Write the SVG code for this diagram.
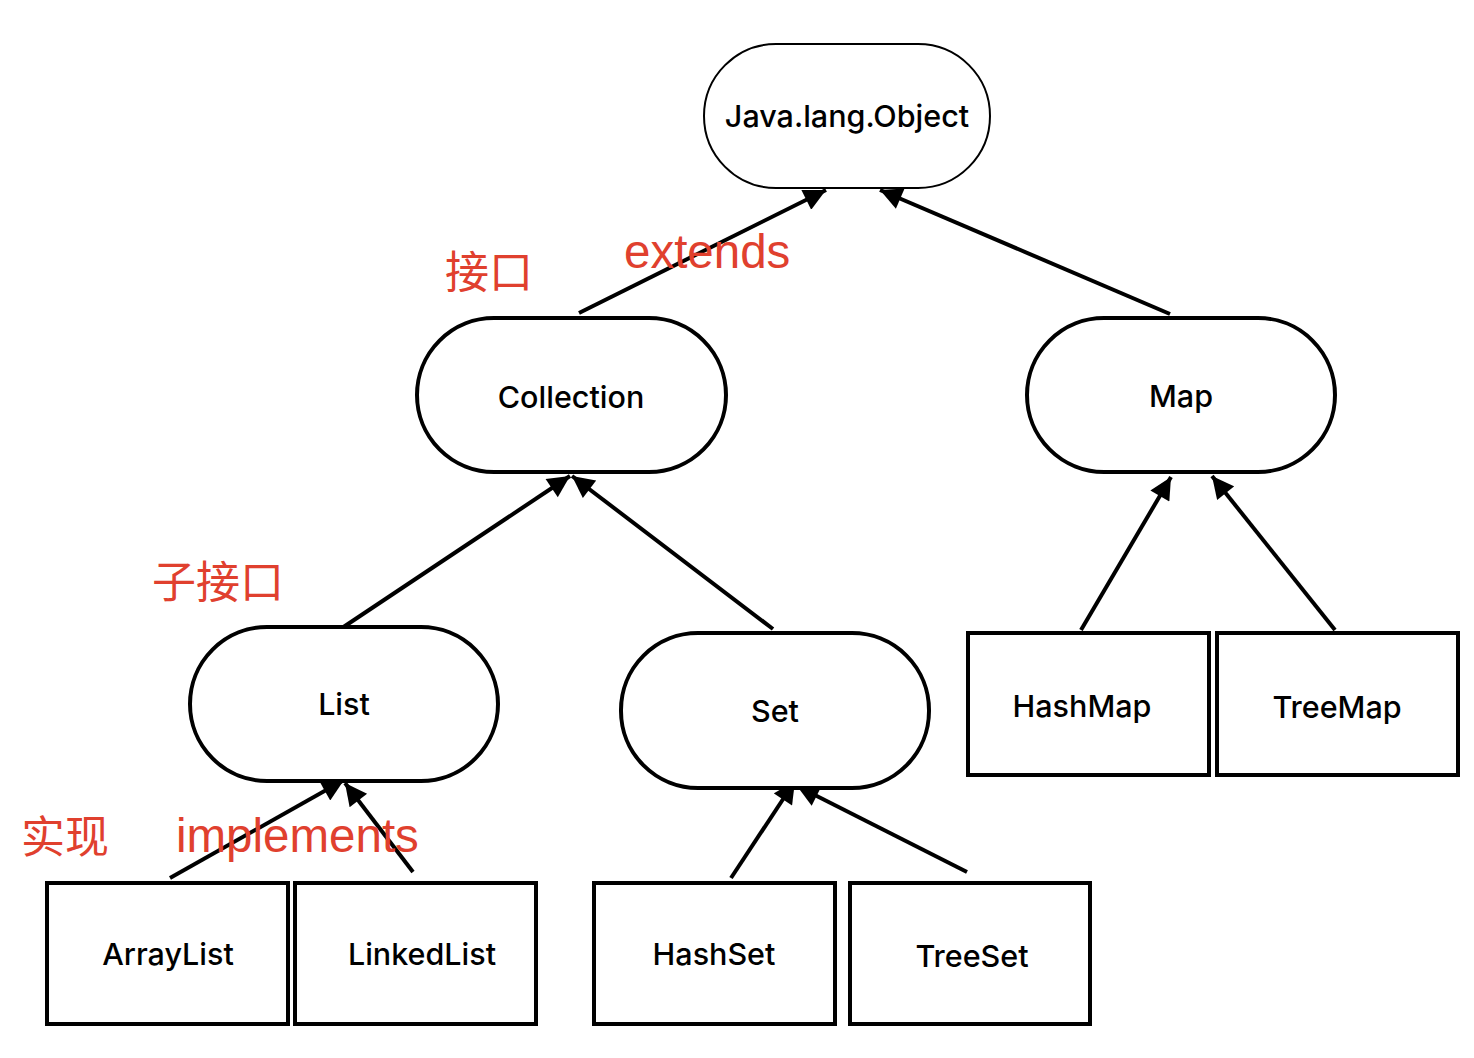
<svg xmlns="http://www.w3.org/2000/svg" width="1474" height="1058" viewBox="0 0 1474 1058">
<defs>
<marker id="ah" viewBox="0 0 10 10" refX="10" refY="5" markerWidth="6" markerHeight="5.5" markerUnits="strokeWidth" orient="auto">
<path d="M0,0 L10,5 L0,10 Z" fill="#000"/>
</marker>
</defs>
<style>
.n{fill:#fff;stroke:#000;stroke-width:4}
.t{font-family:Inter,"Liberation Sans",Arial,sans-serif;font-size:30.5px;font-weight:500;fill:#000;text-anchor:middle}
.e{stroke:#000;stroke-width:4;fill:none;marker-end:url(#ah)}
.r{font-family:"Liberation Sans","Noto Sans CJK SC",sans-serif;font-size:47.5px;fill:#e0402e}
.c{font-family:"Noto Sans CJK SC",sans-serif;font-size:44px;fill:#e0402e}
</style>
<rect width="1474" height="1058" fill="#fff"/>
<g id="connectors">
<line class="e" x1="579" y1="313" x2="826" y2="190"/>
<line class="e" x1="1170" y1="314" x2="880" y2="190"/>
<line class="e" x1="342" y1="628" x2="570" y2="476"/>
<line class="e" x1="773" y1="629" x2="572" y2="476"/>
<line class="e" x1="1081" y1="630" x2="1171" y2="477"/>
<line class="e" x1="1335" y1="630" x2="1212" y2="476"/>
<line class="e" x1="170" y1="878" x2="344" y2="780"/>
<line class="e" x1="413" y1="872" x2="345" y2="783"/>
<line class="e" x1="731" y1="878" x2="795" y2="781"/>
<line class="e" x1="967" y1="872" x2="797" y2="786"/>
</g>
<g id="object"><rect class="n" style="stroke-width:2" x="704" y="44" width="286" height="144" rx="72"/><text class="t" x="847" y="127">Java.lang.Object</text></g>
<g id="collection"><rect class="n" x="417" y="318" width="309" height="154" rx="77"/><text class="t" x="571" y="408">Collection</text></g>
<g id="map"><rect class="n" x="1027" y="318" width="308" height="154" rx="77"/><text class="t" x="1181" y="407">Map</text></g>
<g id="list"><rect class="n" x="190" y="627" width="308" height="154" rx="77"/><text class="t" x="344" y="715">List</text></g>
<g id="set"><rect class="n" x="621" y="633" width="308" height="155" rx="77"/><text class="t" x="775" y="722">Set</text></g>
<g id="hashmap"><rect class="n" x="968" y="633" width="241" height="142"/><text class="t" x="1082" y="717">HashMap</text></g>
<g id="treemap"><rect class="n" x="1217" y="633" width="241" height="142"/><text class="t" x="1337" y="718">TreeMap</text></g>
<g id="arraylist"><rect class="n" x="47" y="883" width="241" height="141"/><text class="t" x="168" y="965">ArrayList</text></g>
<g id="linkedlist"><rect class="n" x="295" y="883" width="241" height="141"/><text class="t" x="422" y="965">LinkedList</text></g>
<g id="hashset"><rect class="n" x="594" y="883" width="241" height="141"/><text class="t" x="714" y="965">HashSet</text></g>
<g id="treeset"><rect class="n" x="850" y="883" width="240" height="141"/><text class="t" x="972" y="967">TreeSet</text></g>
<g id="labels">
<text class="c" x="445" y="288">接口</text>
<text class="r" x="624" y="268">extends</text>
<text class="c" x="152" y="598">子接口</text>
<text class="c" x="21" y="853">实现</text>
<text class="r" x="176" y="852">implements</text>
</g>
</svg>
